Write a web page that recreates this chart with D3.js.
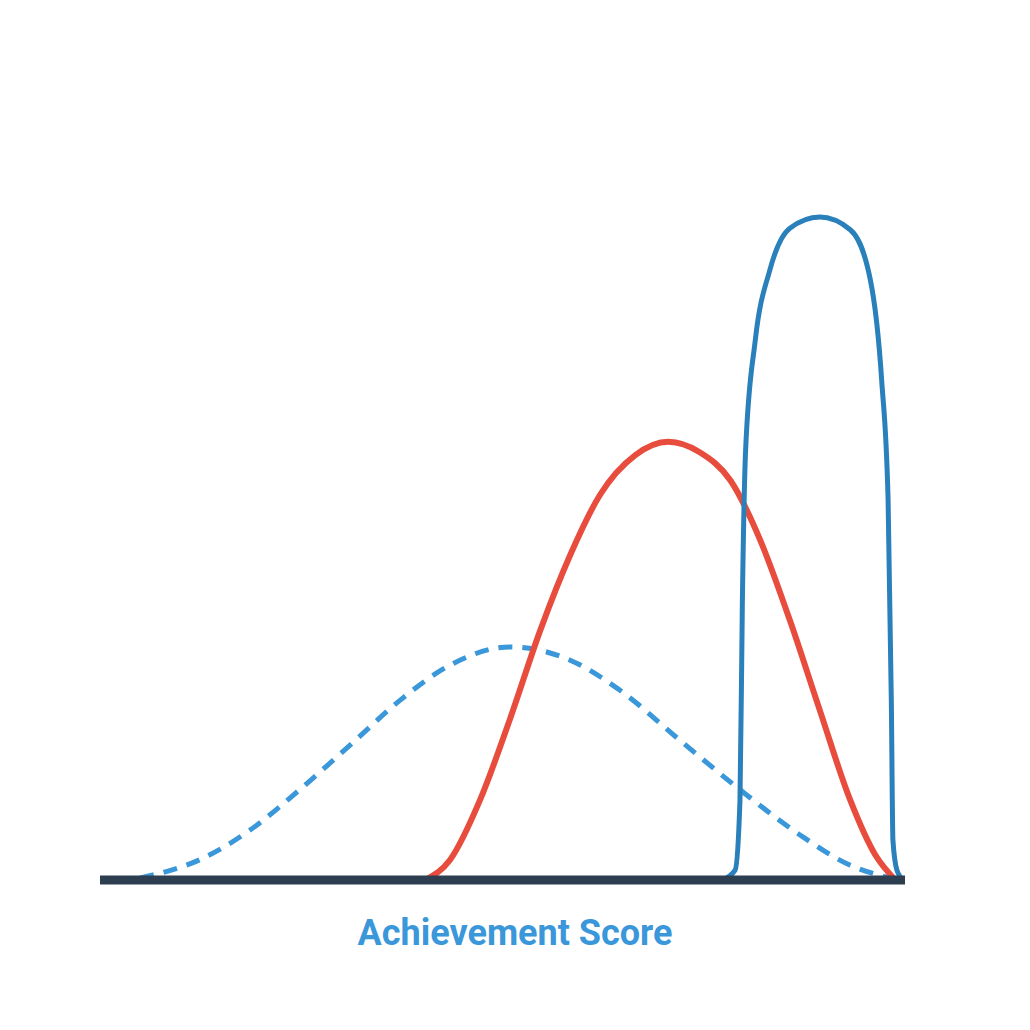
<!DOCTYPE html>
<html>
<head>
<meta charset="utf-8">
<script src="https://cdn.jsdelivr.net/npm/d3@7"></script>
<style>body{margin:0;background:#fff;}</style>
</head>
<body>
<div class="container"></div>
<script>
// score (0-100) vs relative density
const dashedScore = [5, 12.4, 18.6, 24.8, 31.1, 37.3, 43.5, 50.9, 58.4, 64.6, 72, 79.5, 87, 93.2, 98.1];
const dashedDens  = [0.3, 2.9, 7.1, 12.9, 19.3, 25.7, 30.7, 33.3, 31.4, 27.1, 20, 12.9, 6.4, 2.1, 0.3];
const redScore = [40.4, 43.5, 47.2, 50.9, 54.7, 58.4, 62.1, 66.5, 70.6, 74.5, 78.3, 82, 85.7, 89.4, 93.2, 96.3, 98.8];
const redDens  = [0, 2.9, 11.4, 22.9, 35.7, 46.4, 55, 60.7, 62.6, 61.1, 57.1, 48.6, 37.1, 24.3, 11.4, 3.6, 0];
const blueScore = [77.3, 78.9, 79.5, 79.8, 80.2, 81.4, 83.2, 85.7, 89.4, 93.2, 95.7, 97.1, 97.9, 98.3, 98.5, 99, 99.8];
const blueDens  = [0, 1.4, 11.4, 40, 61.4, 77.1, 87.1, 93.1, 94.7, 92.9, 85.7, 71.4, 54.3, 25.7, 5.7, 1.4, 0];
const axisLabel = "Achievement Score";

const w = 1030, h = 1030;
const svg = d3.select(".container").append("svg").attr("width", w).attr("height", h);

const x = d3.scaleLinear().domain([0, 100]).range([100, 905]);
const y = d3.scaleLinear().domain([0, 100]).range([880, 180]);

const line = d3.line().x(d => x(d[0])).y(d => y(d[1])).curve(d3.curveMonotoneX);
const zip = (a, b) => a.map((v, i) => [v, b[i]]);

svg.append("path").datum(zip(dashedScore, dashedDens)).attr("d", line)
   .attr("fill", "none").attr("stroke", "#3a97d9").attr("stroke-width", 5)
   .attr("stroke-dasharray", "14,10");
svg.append("path").datum(zip(redScore, redDens)).attr("d", line)
   .attr("fill", "none").attr("stroke", "#e74c3c").attr("stroke-width", 6);
svg.append("path").datum(zip(blueScore, blueDens)).attr("d", line)
   .attr("fill", "none").attr("stroke", "#2a80ba").attr("stroke-width", 5);

svg.append("line").attr("x1", x(0)).attr("x2", x(100)).attr("y1", y(0)).attr("y2", y(0))
   .attr("stroke", "#2c3e50").attr("stroke-width", 9);

svg.append("text").attr("x", 515).attr("y", 945).attr("text-anchor", "middle")
   .style("font-family", "Roboto, 'Open Sans', sans-serif").style("font-weight", "bold")
   .style("font-size", "36px").attr("fill", "#3a97d9").text(axisLabel);
</script>
</body>
</html>
